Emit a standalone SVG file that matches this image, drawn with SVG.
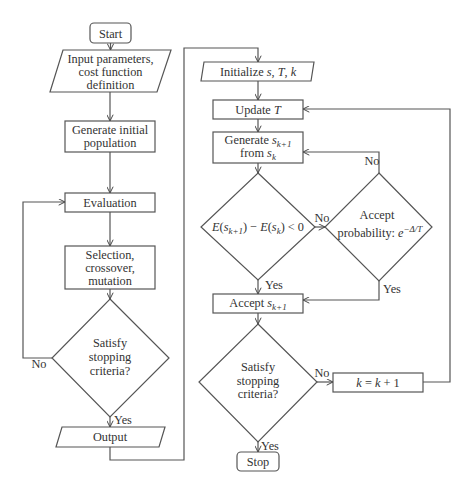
<svg xmlns="http://www.w3.org/2000/svg" width="474" height="495" viewBox="0 0 474 495" font-family="'Liberation Serif', 'DejaVu Serif', serif">
<defs>
<marker id="a" viewBox="0 0 10 10" refX="10" refY="5" markerWidth="7" markerHeight="7" markerUnits="userSpaceOnUse" orient="auto">
<path d="M1,0.5 L10,5 L1,9.5" fill="none" stroke="#444" stroke-width="1.4"/>
</marker>
<style>
.s{fill:#fff;stroke:#555;stroke-width:1.2}
.c{fill:none;stroke:#555;stroke-width:1.2}
text{font-family:'Liberation Serif','DejaVu Serif',serif;font-size:12.3px;fill:#333;text-anchor:middle}
.l{text-anchor:start}
.i{font-style:italic}
.sub{font-size:9px;font-style:italic}
</style>
</defs>
<rect width="474" height="495" fill="#fff"/>
<g id="connectors">
<path class="c" d="M110.5,43 V50" marker-end="url(#a)"/>
<path class="c" d="M110,92 V121" marker-end="url(#a)"/>
<path class="c" d="M110,152 V193" marker-end="url(#a)"/>
<path class="c" d="M110,212 V246" marker-end="url(#a)"/>
<path class="c" d="M110,289 V299" marker-end="url(#a)"/>
<path class="c" d="M52,358 H23 V202 H65" marker-end="url(#a)"/>
<path class="c" d="M110,417 V427" marker-end="url(#a)"/>
<path class="c" d="M110,447 V460 H184 V48 H258 V62" marker-end="url(#a)"/>
<path class="c" d="M258,81 V100" marker-end="url(#a)"/>
<path class="c" d="M258,119 V132" marker-end="url(#a)"/>
<path class="c" d="M258,163 V173" marker-end="url(#a)"/>
<path class="c" d="M315,227 H325" marker-end="url(#a)"/>
<path class="c" d="M379,173 V152 H303" marker-end="url(#a)"/>
<path class="c" d="M379,281 V300 H303" marker-end="url(#a)"/>
<path class="c" d="M258,280 V294" marker-end="url(#a)"/>
<path class="c" d="M258,313 V324" marker-end="url(#a)"/>
<path class="c" d="M317,382 H333" marker-end="url(#a)"/>
<path class="c" d="M423,382 H450 V109 H303" marker-end="url(#a)"/>
<path class="c" d="M258,442 V452" marker-end="url(#a)"/>
<text x="39" y="368">No</text>
<text x="114" y="424" class="l">Yes</text>
<text x="265" y="289" class="l">Yes</text>
<text x="383" y="293" class="l">Yes</text>
<text x="372" y="165">No</text>
<text x="322" y="222">No</text>
<text x="322" y="377">No</text>
<text x="261" y="450" class="l">Yes</text>
</g>
<g id="start">
<rect class="s" x="90" y="23" width="41" height="20" rx="4"/>
<text x="110.5" y="37.5">Start</text>
</g>
<g id="input">
<polygon class="s" points="63,50 171,50 157,92 50,92"/>
<text x="110.5" y="63">Input parameters,</text>
<text x="110.5" y="76">cost function</text>
<text x="110.5" y="88.5">definition</text>
</g>
<g id="geninit">
<rect class="s" x="65" y="121" width="90" height="31"/>
<text x="110" y="133.5">Generate initial</text>
<text x="110" y="147">population</text>
</g>
<g id="evaluation">
<rect class="s" x="65" y="193" width="90" height="19"/>
<text x="110" y="206.5">Evaluation</text>
</g>
<g id="selection">
<rect class="s" x="65" y="246" width="90" height="43"/>
<text x="110" y="258.5">Selection,</text>
<text x="110" y="272">crossover,</text>
<text x="110" y="285">mutation</text>
</g>
<g id="stop1">
<polygon class="s" points="110,299 169,358 110,417 52,358"/>
<text x="110" y="347">Satisfy</text>
<text x="110" y="361">stopping</text>
<text x="110" y="375">criteria?</text>
</g>
<g id="output">
<polygon class="s" points="62,427 165,427 159,447 56,447"/>
<text x="110" y="441">Output</text>
</g>
<g id="init">
<polygon class="s" points="204,62 314,62 311,81 201,81"/>
<text x="258" y="76">Initialize <tspan class="i">s</tspan>, <tspan class="i">T</tspan>, <tspan class="i">k</tspan></text>
</g>
<g id="updateT">
<rect class="s" x="213" y="100" width="90" height="19"/>
<text x="258" y="113.5">Update <tspan class="i">T</tspan></text>
</g>
<g id="generate">
<rect class="s" x="213" y="132" width="90" height="31"/>
<text x="258" y="144">Generate <tspan class="i">s</tspan><tspan class="sub" dy="3">k+1</tspan></text>
<text x="258" y="157">from <tspan class="i">s</tspan><tspan class="sub" dy="3">k</tspan></text>
</g>
<g id="energy">
<polygon class="s" points="258,173 315,227 258,280 201,227"/>
<text x="258" y="231"><tspan class="i">E</tspan>(<tspan class="i">s</tspan><tspan class="sub" dy="3">k+1</tspan><tspan dy="-3">) − </tspan><tspan class="i">E</tspan>(<tspan class="i">s</tspan><tspan class="sub" dy="3">k</tspan><tspan dy="-3">) &lt; 0</tspan></text>
</g>
<g id="acceptprob">
<polygon class="s" points="379,173 432,227 379,281 325,227"/>
<text x="377" y="219">Accept</text>
<text x="380" y="237">probability: <tspan class="i">e</tspan><tspan class="sub" dy="-5">−Δ/T</tspan></text>
</g>
<g id="accept">
<rect class="s" x="213" y="294" width="90" height="19"/>
<text x="258" y="307">Accept <tspan class="i">s</tspan><tspan class="sub" dy="3">k+1</tspan></text>
</g>
<g id="stop2">
<polygon class="s" points="258,324 317,382 258,442 199,382"/>
<text x="258" y="371">Satisfy</text>
<text x="258" y="385">stopping</text>
<text x="258" y="398">criteria?</text>
</g>
<g id="kinc">
<rect class="s" x="333" y="373" width="90" height="19"/>
<text x="378" y="386.5"><tspan class="i">k</tspan> = <tspan class="i">k</tspan> + 1</text>
</g>
<g id="stop">
<rect class="s" x="237" y="452" width="42" height="19" rx="4"/>
<text x="258" y="466">Stop</text>
</g>
</svg>
